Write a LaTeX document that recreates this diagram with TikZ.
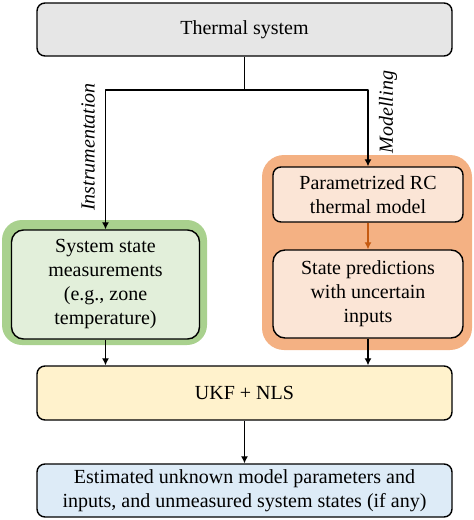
\documentclass[tikz,border=0pt]{standalone}
\usepackage{fontspec}
\setmainfont{Liberation Serif}
\usetikzlibrary{arrows.meta}
\definecolor{sysgray}{RGB}{230,230,230}
\definecolor{grnout}{RGB}{169,209,142}
\definecolor{grnin}{RGB}{226,239,218}
\definecolor{orgout}{RGB}{244,177,131}
\definecolor{orgin}{RGB}{251,229,214}
\definecolor{orgline}{RGB}{197,90,17}
\definecolor{ukfyel}{RGB}{255,242,204}
\definecolor{estblue}{RGB}{221,235,247}

\begin{document}
\begin{tikzpicture}[x=1pt,y=-1pt,font=\fontsize{20}{24}\selectfont,line join=round,
  box/.style={draw=black,line width=1.4pt,rounded corners=8pt,align=center,inner sep=0pt},
  group/.style={rounded corners=20pt},
  conn/.style={line width=1.2pt,-{Latex[length=7pt,width=7pt]}},
  lbl/.style={font=\fontsize{20}{24}\selectfont\itshape,rotate=90,inner sep=0pt}]
\useasboundingbox (0,0) rectangle (474,520);
% coloured backgrounds
\fill[grnout,group] (2,220) rectangle (207,345);
\fill[orgout,group,rounded corners=22pt] (262,155) rectangle (472,350);
% boxes
\node[box,fill=sysgray,minimum width=415pt,minimum height=53pt] (sys) at (244.5,29.5) {Thermal system};
\node[box,fill=grnin,rounded corners=12pt,minimum width=188pt,minimum height=109pt] (meas) at (105.5,284.5) {System state\\measurements\\(e.g., zone\\temperature)};
\node[box,fill=orgin,minimum width=190pt,minimum height=55pt] (rc) at (368,194.5) {Parametrized RC\\thermal model};
\node[box,fill=orgin,rounded corners=12pt,minimum width=190pt,minimum height=88pt] (pred) at (368,294) {State predictions\\with uncertain\\inputs};
\node[box,fill=ukfyel,minimum width=415pt,minimum height=54pt] (ukf) at (244.5,393) {UKF + NLS};
\node[box,fill=estblue,minimum width=415pt,minimum height=53pt] (est) at (244.5,490.5) {Estimated unknown model parameters and\\inputs, and unmeasured system states (if any)};
% connectors
\coordinate (split) at (244.5,90);
\draw[line width=1.2pt] (sys.south) -- (split);
\draw[conn] (split) -| (meas.north);
\draw[conn] (split) -| (rc.north);
\draw[conn,draw=orgline,-{Latex[length=7pt,width=7pt,fill=orgline]}] (rc.south) -- (pred.north);
\draw[conn] (meas.south) -- (meas.south |- ukf.north);
\draw[conn] (pred.south) -- (pred.south |- ukf.north);
\draw[conn] (ukf.south) -- (est.north);
% labels
\node[lbl] (instr) at (88,147) {Instrumentation};
\node[lbl] (model) at (388,112) {Modelling};
\end{tikzpicture}
\end{document}
